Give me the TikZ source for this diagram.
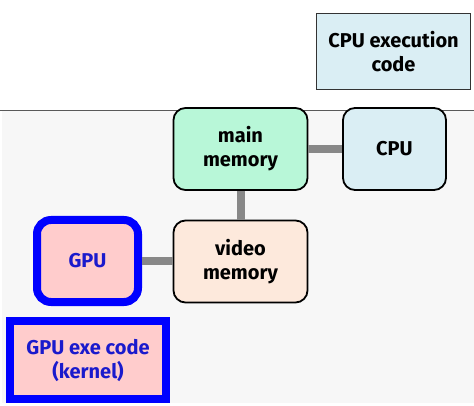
\documentclass[tikz,border=0pt]{standalone}
\usepackage{fontspec}
\setmainfont{Fira Sans}
\definecolor{bgray}{HTML}{F7F7F7}
\definecolor{lblue}{HTML}{DAEEF4}
\definecolor{mint}{HTML}{B8F7D8}
\definecolor{peach}{HTML}{FDE9DC}
\definecolor{lpink}{HTML}{FFCCCC}
\definecolor{gblue}{HTML}{0000FF}
\definecolor{tblue}{HTML}{1A1ACC}
\definecolor{conn}{HTML}{888888}
\begin{document}
\begin{tikzpicture}[x=1pt,y=-1pt,
  txt/.style={font=\bfseries\fontsize{20}{24}\selectfont, align=center, inner sep=0pt},
  rbox/.style={txt, draw=black, line width=1.8pt, rounded corners=12pt},
  gbox/.style={txt, draw=gblue, line width=8pt, fill=lpink, text=tblue},
  link/.style={draw=conn, line width=8pt}]
\useasboundingbox (0,0) rectangle (474,406);
\fill[bgray] (2,111) rectangle (474,403);
\draw[line width=1.5pt, draw=black!65] (0,110.5) -- (474,110.5);
\node[txt, draw=black!80, line width=1.2pt, fill=lblue, minimum width=154pt, minimum height=76pt] (code) at (393.5,51.5) {CPU execution\\code};
\node[rbox, fill=mint, minimum width=134pt, minimum height=82pt] (mm) at (240.5,149) {main\\memory};
\node[rbox, fill=lblue, minimum width=103pt, minimum height=82pt] (cpu) at (394.5,149) {CPU};
\node[rbox, fill=peach, minimum width=134pt, minimum height=82pt] (vm) at (240.5,261.5) {video\\memory};
\node[gbox, rounded corners=14pt, minimum width=101pt, minimum height=82pt] (gpu) at (87.5,261) {GPU};
\node[gbox, minimum width=156pt, minimum height=78pt] (gcode) at (88,360) {GPU exe code\\(kernel)};
\draw[link] (mm.east) -- (cpu.west);
\draw[link] (mm.south) -- (vm.north);
\draw[link] (gpu.east |- vm.west) -- (vm.west);
\end{tikzpicture}
\end{document}
